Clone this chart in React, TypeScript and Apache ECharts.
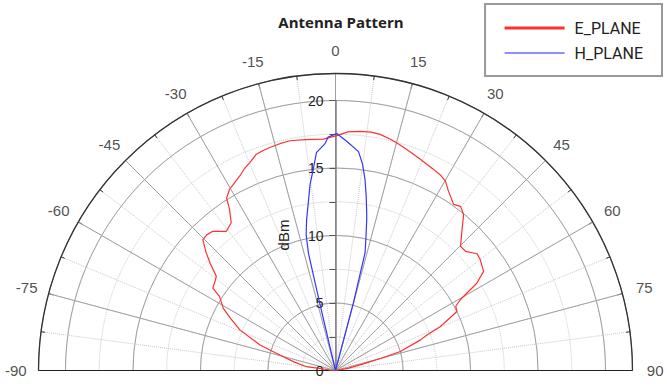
import React, { useEffect, useRef } from 'react';
import * as echarts from 'echarts';

const chartTitle = 'Antenna Pattern';
const radiusName = 'dBm';
const seriesNames = ['E_PLANE', 'H_PLANE'];
const angleMin = -90;
const angleMax = 90;
const radiusMax = 22;
const angleTickLabels = [-90, -75, -60, -45, -30, -15, 0, 15, 30, 45, 60, 75, 90];

// E_PLANE: angle (deg) and level (dBm)
const ePlaneAngles = [
  -88, -84.8, -82.5, -78.5, -75.2, -71.3, -67, -63.5, -61, -57.4, -56.1, -53.5, -51.7,
  -49.5, -47.7, -45.4, -43.5, -41.4, -38.1, -35.2, -33.3, -32.3, -30.3, -28.2, -26.2,
  -24.3, -22.4, -20.1, -18.2, -16.4, -13.8, -11.2, -7.5, -3, 0.3, 3, 5.9, 8.5, 10.7,
  13.5, 16, 19, 21.9, 25.9, 28, 30.1, 32.2, 35.4, 37.3, 39.4, 41.9, 45.2, 47.5, 50.5,
  52.6, 56.2, 58.3, 60.5, 61.9, 64.1, 67.3, 68.7, 70.2, 73.7, 75, 77, 80, 88,
];
const ePlaneValues = [
  0, 0.4, 2.16, 3.1, 4.0, 5.9, 7.7, 8.7, 9.5, 10.2, 10.95, 11.1, 11.25,
  12.2, 12.95, 13.8, 13.85, 13.75, 13.1, 13.4, 14.3, 15.1, 15.55, 15.8, 16.06,
  16.4, 16.66, 17.06, 17.15, 17.22, 17.3, 17.35, 17.25, 17.16, 17.4, 17.7, 17.8, 17.85, 17.8,
  17.6, 17.37, 17.1, 16.86, 16.58, 16.45, 16.23, 15.7, 15.1, 15.28, 14.95, 14.04, 13.05, 13.07, 13.6,
  13.5, 13.2, 12.3, 10.6, 10.1, 10.0, 8.4, 7.3, 6.7, 5.0, 3.5, 2.0, 1.0, 0,
];

// H_PLANE: angle (deg) and level (dBm)
const hPlaneAngles = [
  -13.5, -13.2, -13, -12.2, -10.8, -9.2, -7.8, -6.3, -5, -2.7, -1.8, 0.3,
  2.8, 6, 7.5, 8.8, 10, 11.2, 11.7, 12.8, 14.1, 14.8, 15.2,
];
const hPlaneValues = [
  0, 5.1, 8.9, 10.3, 11.4, 12.6, 13.9, 15.0, 16.2, 16.8, 17.3, 17.55,
  17.0, 16.3, 15.4, 14.3, 13.1, 11.9, 11.4, 10.2, 9.0, 5.2, 0,
];

const CX = 335.5;
const CY = 370.5;
const PX_PER_UNIT = 13.5;
const ANGLE_LABEL_OFFSET = 1.68; // in radius units beyond the outer circle
const FONT = '"Liberation Sans", Arial, sans-serif';

export default function App() {
  const ref = useRef<HTMLDivElement>(null);

  useEffect(() => {
    if (!ref.current) return;
    const chart = echarts.init(ref.current, undefined, { renderer: 'svg' });

    const eData = ePlaneAngles.map((a, i) => [ePlaneValues[i], a]);
    const hData = hPlaneAngles.map((a, i) => [hPlaneValues[i], a]);
    const labelData = angleTickLabels.map((a) => [radiusMax + ANGLE_LABEL_OFFSET, a]);
    const majorCount = (angleMax - angleMin) / 15 + 1;
    const majorColors = Array.from({ length: majorCount }, (_, i) =>
      i === 0 || i === majorCount - 1 ? '#222' : '#a0a0a0'
    );

    const option: any = {
      animation: false,
      backgroundColor: '#fff',
      title: {
        text: chartTitle,
        left: 341,
        top: 14,
        textAlign: 'center',
        padding: 0,
        textStyle: { fontSize: 15, fontWeight: 'bold', color: '#222', fontFamily: '"Open Sans", sans-serif' },
      },
      legend: {
        orient: 'vertical',
        right: 5,
        top: 4,
        padding: [16, 19, 15, 18],
        itemGap: 9,
        itemWidth: 60,
        itemHeight: 14,
        borderColor: '#999',
        borderWidth: 2,
        backgroundColor: '#fff',
        itemStyle: { opacity: 0 },
        textStyle: { fontSize: 16, color: '#222', fontFamily: 'Roboto, sans-serif', padding: [0, 0, 0, 5] },
        data: [
          { name: seriesNames[0], lineStyle: { width: 3, color: '#ff3030' }, itemStyle: { opacity: 0 } },
          { name: seriesNames[1], lineStyle: { width: 2, color: '#8f8fff' }, itemStyle: { opacity: 0 } },
        ],
      },
      graphic: [
        {
          type: 'text',
          x: 283,
          y: 235,
          rotation: Math.PI / 2,
          style: {
            text: radiusName,
            fontSize: 15,
            fill: '#222',
            fontFamily: FONT,
            align: 'center',
            verticalAlign: 'middle',
          },
          z: 10,
        },
      ],
      polar: [
        { center: [CX, CY], radius: radiusMax * PX_PER_UNIT },
        { center: [CX, CY], radius: radiusMax * PX_PER_UNIT },
        { center: [CX, CY], radius: 20 * PX_PER_UNIT },
      ],
      angleAxis: [
        {
          polarIndex: 0,
          type: 'value',
          min: angleMin,
          max: angleMax,
          interval: 7.5,
          startAngle: 180,
          endAngle: 0,
          clockwise: true,
          axisLine: { show: false },
          axisTick: { show: false },
          axisLabel: { show: false },
          splitLine: { show: true, lineStyle: { color: '#c8c8c8', type: 'dotted', width: 1 } },
        },
        {
          polarIndex: 1,
          type: 'value',
          min: angleMin,
          max: angleMax,
          interval: 15,
          startAngle: 180,
          endAngle: 0,
          clockwise: true,
          axisLine: { show: true, lineStyle: { color: '#333', width: 1.3 } },
          axisTick: { show: true, inside: true, length: 5, lineStyle: { color: '#333' } },
          minorTick: { show: true, splitNumber: 2, length: 4, lineStyle: { color: '#333' } },
          axisLabel: { show: false },
          splitLine: { show: true, lineStyle: { color: majorColors, width: 1 } },
        },
        {
          polarIndex: 2,
          type: 'value',
          min: 0,
          max: 1,
          startAngle: 90,
          endAngle: 89,
          clockwise: true,
          show: false,
        },
      ],
      radiusAxis: [
        {
          polarIndex: 0,
          type: 'value',
          min: 0,
          max: radiusMax,
          interval: 2.5,
          axisLine: { show: false },
          axisTick: { show: false },
          axisLabel: { show: false },
          splitLine: { show: true, lineStyle: { color: '#c8c8c8', type: 'dotted', width: 1 } },
        },
        {
          polarIndex: 1,
          type: 'value',
          min: 0,
          max: radiusMax,
          interval: 5,
          axisLine: { show: false },
          axisTick: { show: false },
          axisLabel: { show: false },
          splitLine: { show: true, lineStyle: { color: '#a0a0a0', width: 1 } },
        },
        {
          polarIndex: 2,
          type: 'value',
          min: 0,
          max: 20,
          interval: 2.5,
          axisLine: { show: true, lineStyle: { color: '#808080', width: 1.5 } },
          axisTick: { show: true, length: 6, lineStyle: { color: '#555' } },
          axisLabel: {
            show: true,
            margin: 12,
            fontSize: 14,
            color: '#222',
            fontFamily: FONT,
            formatter: (v: number) => (v % 5 === 0 ? String(v) : ''),
          },
          splitLine: { show: false },
        },
      ],
      series: [
        {
          name: 'angleLabels',
          type: 'scatter',
          coordinateSystem: 'polar',
          polarIndex: 1,
          data: labelData,
          symbol: 'circle',
          symbolSize: 1,
          clip: false,
          silent: true,
          itemStyle: { color: 'rgba(0,0,0,0)' },
          label: {
            show: true,
            position: 'inside',
            fontSize: 15,
            color: '#222',
            fontFamily: FONT,
            formatter: (p: any) => String(p.value[1]),
          },
          labelLayout: { hideOverlap: false },
          z: 10,
        },
        {
          name: seriesNames[0],
          type: 'line',
          coordinateSystem: 'polar',
          polarIndex: 1,
          data: eData,
          symbol: 'none',
          color: '#ff3030',
          lineStyle: { color: '#ff3030', width: 1.2 },
          z: 5,
        },
        {
          name: seriesNames[1],
          type: 'line',
          coordinateSystem: 'polar',
          polarIndex: 1,
          data: hData,
          symbol: 'none',
          color: '#3535ff',
          lineStyle: { color: '#3535ff', width: 1.2 },
          z: 6,
        },
      ],
    };

    chart.setOption(option);
    return () => chart.dispose();
  }, []);

  return (
    <div
      ref={ref}
      style={{ position: 'fixed', left: 0, top: 0, width: 667, height: 386, background: '#fff' }}
    />
  );
}
